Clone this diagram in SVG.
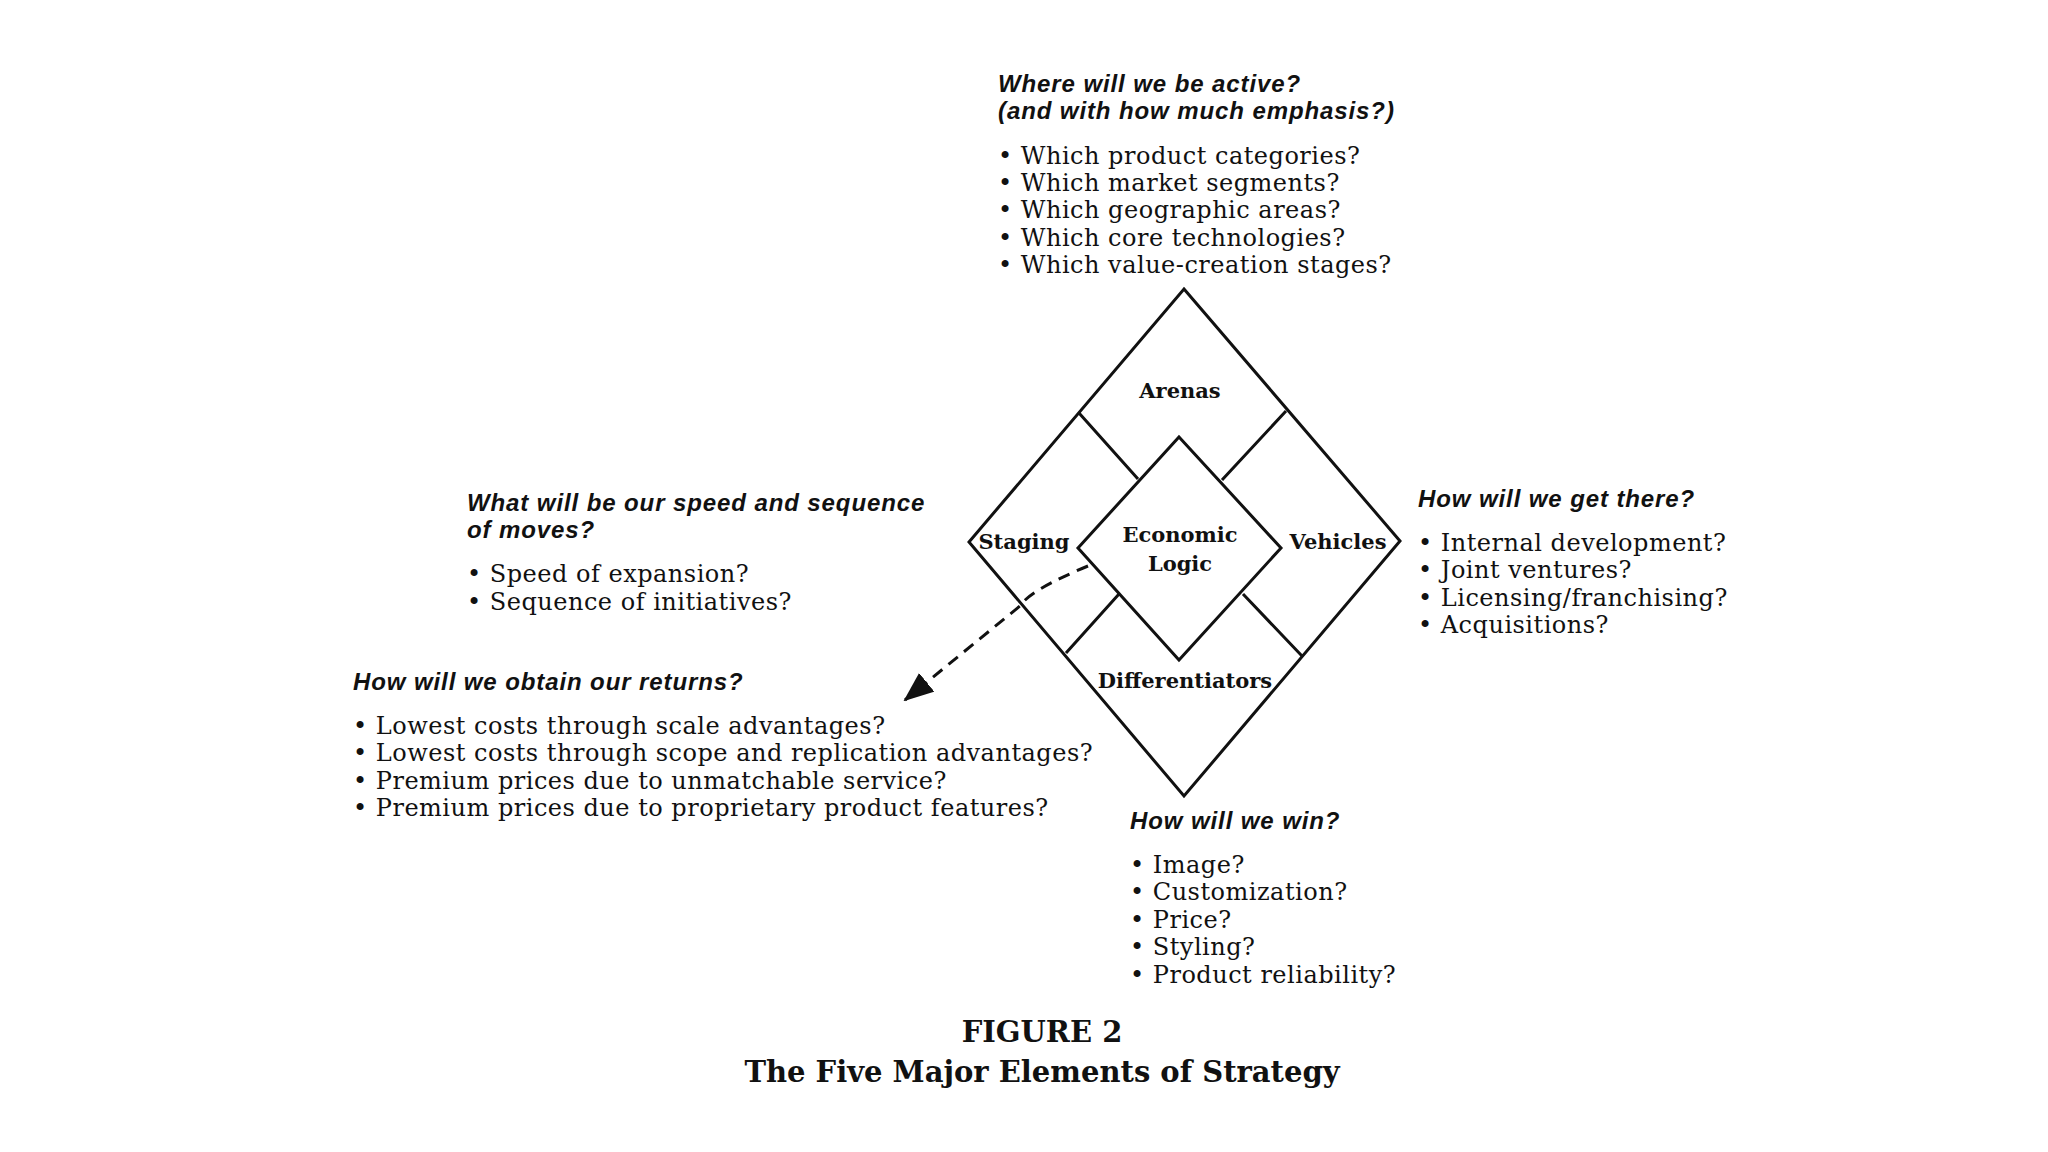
<svg xmlns="http://www.w3.org/2000/svg" width="2048" height="1152" viewBox="0 0 2048 1152">
<style>
.h{font-family:"Liberation Sans",sans-serif;font-weight:bold;font-style:italic;font-size:24px;letter-spacing:0.9px;fill:#111}
.b{font-family:"DejaVu Serif",serif;font-size:24px;letter-spacing:0.5px;fill:#111}
.l{font-family:"DejaVu Serif",serif;font-weight:bold;font-size:21px;fill:#111;text-anchor:middle}
.t{font-family:"DejaVu Serif",serif;font-weight:bold;font-size:29px;fill:#111;text-anchor:middle}
.s{fill:none;stroke:#111;stroke-width:3}
</style>
<defs><marker id="ah2" markerWidth="30" markerHeight="24" refX="28" refY="12" orient="auto" markerUnits="userSpaceOnUse"><path d="M0,0 L30,12 L0,24 z" fill="#111"/></marker></defs>
<rect width="2048" height="1152" fill="#fff"/>
<g id="diamond">
<path class="s" d="M1184,289 L1400,541 L1184,796 L969,542 Z"/>
<path class="s" d="M1179,437 L1281,548 L1179,660 L1078,548 Z"/>
</g>
<g id="connectors">
<path class="s" d="M1079,413 L1138,479 M1286,411 L1222,480 M1066,653 L1119,594 M1302,656 L1243,594"/>
<path d="M1088,566 Q1030,590 1020,606 L905,700" fill="none" stroke="#111" stroke-width="3" stroke-dasharray="12,8" marker-end="url(#ah2)"/>
</g>
<g id="arenas"><text class="l" x="1180" y="398">Arenas</text></g>
<g id="staging"><text class="l" x="1024" y="549">Staging</text></g>
<g id="vehicles"><text class="l" x="1338" y="549">Vehicles</text></g>
<g id="economic-logic"><text class="l" x="1180" y="542">Economic</text><text class="l" x="1180" y="571">Logic</text></g>
<g id="differentiators"><text class="l" x="1185" y="688">Differentiators</text></g>
<g id="top-text">
<text class="h" x="998" y="92">Where will we be active?</text>
<text class="h" x="998" y="119">(and with how much emphasis?)</text>
<text class="b" x="998" y="164">• Which product categories?</text>
<text class="b" x="998" y="191">• Which market segments?</text>
<text class="b" x="998" y="218">• Which geographic areas?</text>
<text class="b" x="998" y="246">• Which core technologies?</text>
<text class="b" x="998" y="273">• Which value-creation stages?</text>
</g>
<g id="left-text">
<text class="h" x="467" y="511">What will be our speed and sequence</text>
<text class="h" x="467" y="538">of moves?</text>
<text class="b" x="467" y="582">• Speed of expansion?</text>
<text class="b" x="467" y="610">• Sequence of initiatives?</text>
</g>
<g id="returns-text">
<text class="h" x="353" y="690">How will we obtain our returns?</text>
<text class="b" x="353" y="734">• Lowest costs through scale advantages?</text>
<text class="b" x="353" y="761">• Lowest costs through scope and replication advantages?</text>
<text class="b" x="353" y="789">• Premium prices due to unmatchable service?</text>
<text class="b" x="353" y="816">• Premium prices due to proprietary product features?</text>
</g>
<g id="right-text">
<text class="h" x="1418" y="507">How will we get there?</text>
<text class="b" x="1418" y="551">• Internal development?</text>
<text class="b" x="1418" y="578">• Joint ventures?</text>
<text class="b" x="1418" y="606">• Licensing/franchising?</text>
<text class="b" x="1418" y="633">• Acquisitions?</text>
</g>
<g id="bottom-text">
<text class="h" x="1130" y="829">How will we win?</text>
<text class="b" x="1130" y="873">• Image?</text>
<text class="b" x="1130" y="900">• Customization?</text>
<text class="b" x="1130" y="928">• Price?</text>
<text class="b" x="1130" y="955">• Styling?</text>
<text class="b" x="1130" y="983">• Product reliability?</text>
</g>
<g id="caption">
<text class="t" x="1042" y="1042">FIGURE 2</text>
<text class="t" x="1042" y="1082">The Five Major Elements of Strategy</text>
</g>
</svg>
